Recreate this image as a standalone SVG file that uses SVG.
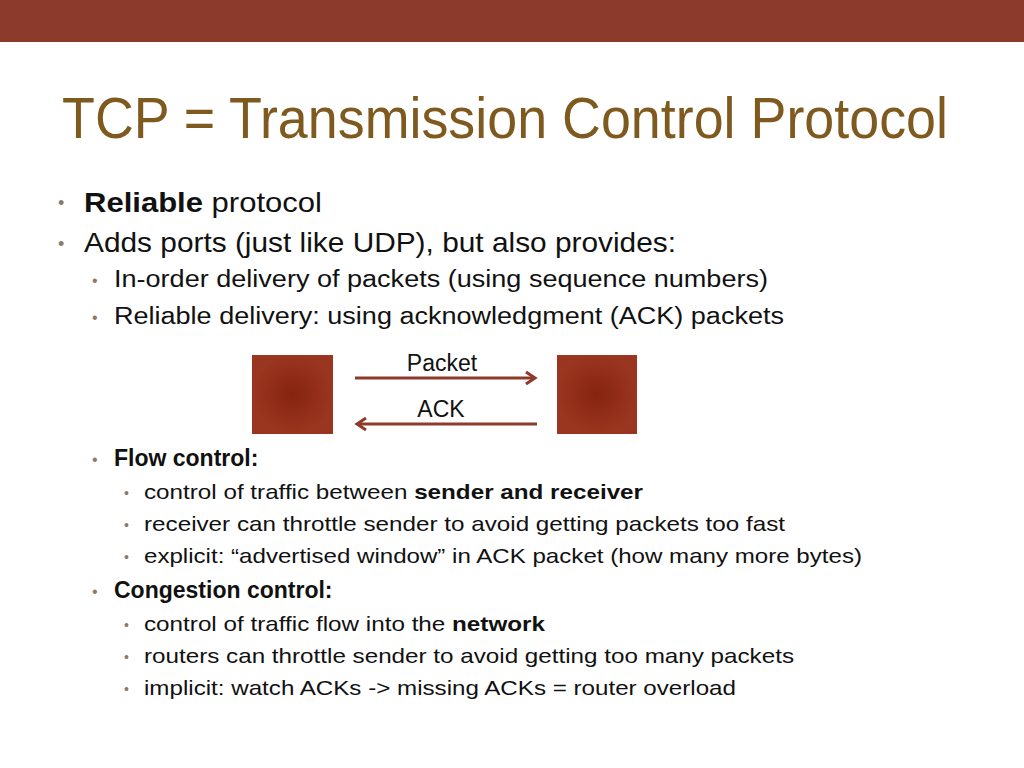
<svg xmlns="http://www.w3.org/2000/svg" width="1024" height="768" viewBox="0 0 1024 768">
<defs>
<style>
text{font-family:"Liberation Sans",Arial,sans-serif;fill:#111}
.t{fill:#7f5a1f;font-size:58px}
.l1{font-size:28px}
.l2{font-size:23px}
.l3{font-size:21px}
.b{fill:#8a7a66}
.box{fill:url(#g)}
.arr{stroke:#8e3a2b;stroke-width:3;fill:none}
</style>
<radialGradient id="g"><stop offset="0" stop-color="#86240f"/><stop offset="1" stop-color="#9a3520"/></radialGradient>
<marker id="m" markerWidth="14" markerHeight="14" refX="11" refY="7" orient="auto" markerUnits="userSpaceOnUse"><path d="M2,1 L11,7 L2,13" stroke="#8e3a2b" stroke-width="3" fill="none"/></marker>
</defs>
<rect width="1024" height="768" fill="#fff"/>
<rect width="1024" height="42" fill="#8b3a2b"/>
<text class="t" x="62" y="138" textLength="886" lengthAdjust="spacingAndGlyphs">TCP = Transmission Control Protocol</text>
<text class="b" x="58" y="209" font-size="18">•</text>
<text class="l1" x="84" y="212" textLength="238" lengthAdjust="spacingAndGlyphs"><tspan font-weight="bold">Reliable</tspan> protocol</text>
<text class="b" x="58" y="250" font-size="18">•</text>
<text class="l1" x="84" y="252" textLength="592" lengthAdjust="spacingAndGlyphs">Adds ports (just like UDP), but also provides:</text>
<text class="b" x="92" y="286" font-size="16">•</text>
<text class="l2" x="114" y="287" textLength="654" lengthAdjust="spacingAndGlyphs">In-order delivery of packets (using sequence numbers)</text>
<text class="b" x="92" y="323" font-size="16">•</text>
<text class="l2" x="114" y="324" textLength="670" lengthAdjust="spacingAndGlyphs">Reliable delivery: using acknowledgment (ACK) packets</text>
<g id="sender"><rect class="box" x="252" y="355" width="81" height="79"/></g>
<g id="receiver"><rect class="box" x="557" y="355" width="80" height="79"/></g>
<g id="connectors">
<line class="arr" x1="355" y1="378" x2="535" y2="378" marker-end="url(#m)"/>
<line class="arr" x1="537" y1="424" x2="357" y2="424" marker-end="url(#m)"/>
<text class="l2" x="442" y="371" text-anchor="middle">Packet</text>
<text class="l2" x="441" y="417" text-anchor="middle">ACK</text>
</g>
<text class="b" x="92" y="465" font-size="16">•</text>
<text class="l2" x="114" y="466" font-weight="bold">Flow control:</text>
<text class="b" x="124" y="498" font-size="14">•</text>
<text class="l3" x="144" y="499" textLength="499" lengthAdjust="spacingAndGlyphs">control of traffic between <tspan font-weight="bold">sender and receiver</tspan></text>
<text class="b" x="124" y="530" font-size="14">•</text>
<text class="l3" x="144" y="531" textLength="641" lengthAdjust="spacingAndGlyphs">receiver can throttle sender to avoid getting packets too fast</text>
<text class="b" x="124" y="562" font-size="14">•</text>
<text class="l3" x="144" y="563" textLength="718" lengthAdjust="spacingAndGlyphs">explicit: “advertised window” in ACK packet (how many more bytes)</text>
<text class="b" x="92" y="597" font-size="16">•</text>
<text class="l2" x="114" y="598" font-weight="bold">Congestion control:</text>
<text class="b" x="124" y="630" font-size="14">•</text>
<text class="l3" x="144" y="631" textLength="401" lengthAdjust="spacingAndGlyphs">control of traffic flow into the <tspan font-weight="bold">network</tspan></text>
<text class="b" x="124" y="662" font-size="14">•</text>
<text class="l3" x="144" y="663" textLength="650" lengthAdjust="spacingAndGlyphs">routers can throttle sender to avoid getting too many packets</text>
<text class="b" x="124" y="694" font-size="14">•</text>
<text class="l3" x="144" y="695" textLength="592" lengthAdjust="spacingAndGlyphs">implicit: watch ACKs -&gt; missing ACKs = router overload</text>
</svg>
